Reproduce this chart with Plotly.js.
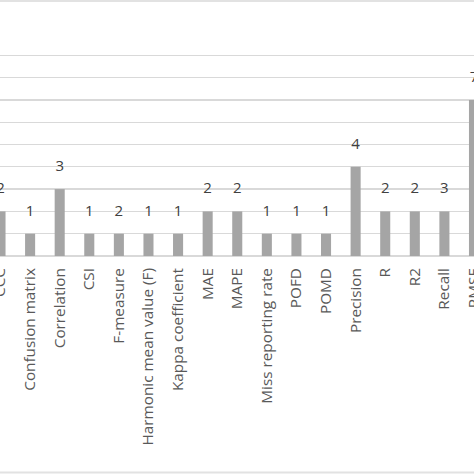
<!DOCTYPE html>
<html>
<head>
<meta charset="utf-8">
<script src="https://cdn.plot.ly/plotly-3.0.1.min.js"></script>
<style>
html,body{margin:0;padding:0;background:#fff;}
#chart{width:474px;height:474px;}
</style>
</head>
<body>
<div id="chart"></div>
<script>
const categories = ["CCC","Confusion matrix","Correlation","CSI","F-measure","Harmonic mean value (F)","Kappa coefficient","MAE","MAPE","Miss reporting rate","POFD","POMD","Precision","R","R2","Recall","RMSE"];
const barValues = [2,1,3,1,1,1,1,2,2,1,1,1,4,2,2,2,7];
const labelTexts = ["2","1","3","1","2","1","1","2","2","1","1","1","4","2","2","3","7"];
const yTicks = [0,1,2,3,4,5,6,7,8,9,10];

const idx = categories.map((c,i)=>i);

const bars = {
  type:'bar',
  x: idx,
  y: barValues,
  marker:{color:'#a5a5a5'},
  width:0.34,
  hoverinfo:'skip'
};

const labels = {
  type:'scatter',
  mode:'text',
  x: idx,
  y: barValues.map(v=>v+0.98),
  text: labelTexts,
  textposition:'middle center',
  textfont:{family:'Open Sans, sans-serif',size:15,color:'#404040'},
  hoverinfo:'skip',
  cliponaxis:false
};

const layout = {
  width:474,height:474,
  margin:{l:0,r:0,t:33,b:218,pad:0},
  paper_bgcolor:'#ffffff',
  plot_bgcolor:'#ffffff',
  showlegend:false,
  xaxis:{
    range:[-0.017,16.0],
    tickmode:'array',
    tickvals: idx,
    ticktext: categories,
    tickangle:-90,
    tickfont:{family:'Open Sans, sans-serif',size:15.3,color:'#595959'},
    ticklabeloverflow:'allow',
    ticklabelstandoff:8,
    showgrid:false,
    zeroline:false,
    showline:false,
    ticks:'',
    ticklen:0,
    automargin:false
  },
  yaxis:{
    range:[0,10],
    tickvals:yTicks,
    showticklabels:false,
    showgrid:true,
    gridcolor:'#d9d9d9',
    gridwidth:1.3,
    zeroline:true,
    zerolinecolor:'#d9d9d9',
    zerolinewidth:1.3,
    showline:false,
    fixedrange:true
  },
  shapes:[
    {type:'line',xref:'paper',yref:'paper',x0:0,x1:1,y0:(256-1)/223,y1:(256-1)/223,line:{color:'#e2e2e2',width:2}},
    {type:'line',xref:'paper',yref:'paper',x0:0,x1:1,y0:(256-472.5)/223,y1:(256-472.5)/223,line:{color:'#e2e2e2',width:2}}
  ]
};

Plotly.newPlot('chart',[bars,labels],layout,{staticPlot:true,displayModeBar:false});
</script>
</body>
</html>
